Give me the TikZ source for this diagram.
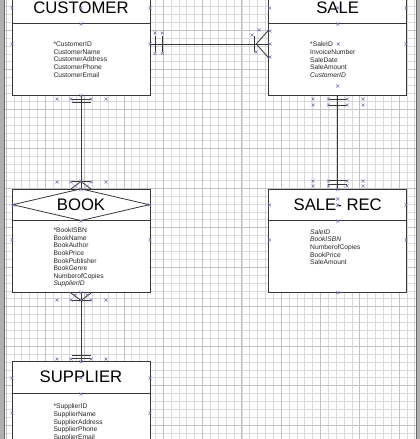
\documentclass[tikz,border=0pt]{standalone}
\usepackage{fontspec}
\setmainfont{Liberation Sans}

\definecolor{gridminor}{HTML}{D9D9D9}
\definecolor{gridmajor}{HTML}{C2C2C2}
\definecolor{cpblue}{HTML}{7474BC}
\definecolor{boxline}{HTML}{383838}
\definecolor{framegray}{HTML}{B0B0B0}

\tikzset{
  entity/.style={draw=boxline, fill=white, line width=0.9pt, minimum width=138pt, minimum height=103.4pt, inner sep=0pt},
  enttitle/.style={font=\fontsize{16.7}{18}\selectfont, inner sep=0pt},
  entattrs/.style={font=\fontsize{6.7}{7.6}\selectfont, align=left, anchor=north west, inner sep=0pt, text=black!85},
  link/.style={draw=boxline, line width=0.8pt},
  cpmark/.style={draw=cpblue, line width=0.5pt}
}

\begin{document}
\begin{tikzpicture}[x=1pt,y=-1pt]
    \useasboundingbox (0,0) rectangle (420,439);
    \clip (0,0) rectangle (420,439);
    \fill[white] (0,0) rectangle (420,439);

    % page grid
    \foreach \i in {0,...,53}
        \draw[gridminor, line width=0.4pt] ({5.9+7.86*\i},0) -- ++(0,439);
    \foreach \i in {-4,...,52}
        \draw[gridminor, line width=0.4pt] (0,{30+7.9*\i}) -- ++(420,0);
    \foreach \i in {0,...,10}
        \draw[gridmajor, line width=0.5pt] ({5.9+39.3*\i},0) -- ++(0,439);
    \foreach \i in {-1,...,10}
        \draw[gridmajor, line width=0.5pt] (0,{30+39.5*\i}) -- ++(420,0);

    % window edges
    \fill[framegray] (0,0) rectangle (4.3,439);
    \draw[black!60, line width=0.8pt] (4.6,0) -- (4.6,439);
    \fill[framegray] (417,0) rectangle (420,439);
    \draw[black!60, line width=0.8pt] (416.6,0) -- (416.6,439);

    % entities
    \node[entity] (cust) at (81,44) {};
    \node[entity] (sale) at (337.7,44) {};
    \node[entity] (book) at (81,241) {};
    \node[entity] (salerec) at (337.7,241) {};
    \node[entity] (supp) at (81,413.4) {};

    \foreach \e in {cust,sale,book,salerec,supp}
        \draw[link] ([shift={(0,31.7)}]\e.north west) -- ([shift={(0,31.7)}]\e.north east);

    \draw[link] ([shift={(1.3,15.85)}]book.north west) -- (book.north)
        -- ([shift={(-1.3,15.85)}]book.north east) -- ([shift={(0,31.7)}]book.north) -- cycle;

    \node[enttitle] (custname) at ([shift={(0,15.85)}]cust.north) {CUSTOMER};
    \node[enttitle] (salename) at ([shift={(0,15.85)}]sale.north) {SALE};
    \node[enttitle] (bookname) at ([shift={(0,15.85)}]book.north) {BOOK};
    \node[enttitle] (salerecname) at ([shift={(0,15.85)}]salerec.north) {SALE- REC};
    \node[enttitle] (suppname) at ([shift={(0,15.85)}]supp.north) {SUPPLIER};

    \node[entattrs] (custattr) at (53.3,41.9) {*CustomerID\\CustomerName\\CustomerAddress\\CustomerPhone\\CustomerEmail};
    \node[entattrs] (saleattr) at (310,41.9) {*SaleID\\InvoiceNumber\\SaleDate\\SaleAmount\\\textit{CustomerID}};
    \node[entattrs] (bookattr) at (53.3,227.6) {*BookISBN\\BookName\\BookAuthor\\BookPrice\\BookPublisher\\BookGenre\\NumberofCopies\\\textit{SupplierID}};
    \node[entattrs] (salerecattr) at (310,229.3) {\textit{SaleID}\\\textit{BookISBN}\\NumberofCopies\\BookPrice\\SaleAmount};
    \node[entattrs] (suppattr) at (53.3,403.8) {*SupplierID\\SupplierName\\SupplierAddress\\SupplierPhone\\SupplierEmail};

    % relationships
    \draw[link] (cust.east) -- (sale.west);
    \draw[link] ([shift={(5,-8)}]cust.east) -- ++(0,16);
    \draw[link] ([shift={(12.3,-8)}]cust.east) -- ++(0,16);
    \draw[link] ([shift={(-14,-8)}]sale.west) -- ++(0,16);
    \draw[link] ([shift={(-12,0)}]sale.west) -- ([shift={(0,-13.5)}]sale.west);
    \draw[link] ([shift={(-12,0)}]sale.west) -- ([shift={(0,13.5)}]sale.west);

    \draw[link] (cust.south) -- (book.north);
    \draw[link] ([shift={(-9.5,2.8)}]cust.south) -- ++(19,0);
    \draw[link] ([shift={(-9.5,5.8)}]cust.south) -- ++(19,0);
    \draw[link] ([shift={(-9.5,-7.3)}]book.north) -- ++(19,0);
    \draw[link] ([shift={(0,-7.3)}]book.north) -- ([shift={(-10,0)}]book.north);
    \draw[link] ([shift={(0,-7.3)}]book.north) -- ([shift={(10,0)}]book.north);

    \draw[link] (sale.south) -- (salerec.north);
    \draw[link] ([shift={(-9.5,3.6)}]sale.south) -- ++(19,0);
    \draw[link] ([shift={(-9.5,9.3)}]sale.south) -- ++(19,0);
    \draw[link] ([shift={(-9.5,-8.6)}]salerec.north) -- ++(19,0);
    \draw[link] ([shift={(-9.5,-4.3)}]salerec.north) -- ++(19,0);

    \draw[link] (book.south) -- (supp.north);
    \draw[link] ([shift={(-9.5,7.3)}]book.south) -- ++(19,0);
    \draw[link] ([shift={(0,7.3)}]book.south) -- ([shift={(-10,0)}]book.south);
    \draw[link] ([shift={(0,7.3)}]book.south) -- ([shift={(10,0)}]book.south);
    \draw[link] ([shift={(-9.5,-5.5)}]supp.north) -- ++(19,0);
    \draw[link] ([shift={(-9.5,-2.5)}]supp.north) -- ++(19,0);

    % connection points
    \foreach \p in {(12,8),(150,8),(12,44),(150,44),(81,24),(81,8),(81,95.7),
                    (57,99),(71,99),(91,99),(106,99),
                    (155,33),(162.3,33),(155,53.5),(162.3,53.5),
                    (252,35),(256,52),(259,30),(270,31),(270,44),(270,57),
                    (269.5,8),(406,8),(406,44),(337.7,24),(337.7,8),(338.3,44),(337.7,86),
                    (313,99),(313,105),(328.5,99),(328.5,105),(347,99),(347,105),(363,99),(363,105),
                    (57,182),(71,182),(91,182),(106,182),(81,181),(75,186),(87,186),
                    (13.3,205),(149.5,205),(81,189.3),(81,221),(12,240),(150,240),
                    (57,300),(71,300),(91,300),(106,300),(81,300),(75,295),(87,295),(81,292.7),
                    (313,181),(313,186),(328.5,181),(328.5,186),(347,181),(347,186),(363,181),(363,186),
                    (337.7,189.3),(337.7,199),(337.7,205),(269.5,205),(406,205),(269.5,240),(406,240),(337.7,221),(337.7,292.7),
                    (57,359),(71,359),(91,359),(106,359),(81,361.7),
                    (12,378),(150,378),(81,378),(81,394),(12,413),(150,413)}
        \draw[cpmark] \p ++(-1.5,-1.5) -- ++(3,3) ++(0,-3) -- ++(-3,3);
\end{tikzpicture}
\end{document}
